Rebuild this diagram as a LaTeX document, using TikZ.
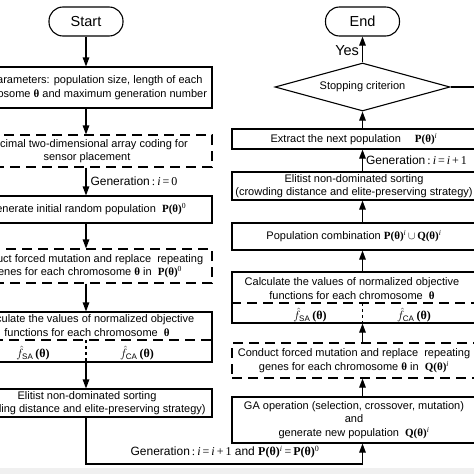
\documentclass[tikz,border=0pt]{standalone}
\usepackage{fontspec}
\setmainfont{Liberation Sans}
\newfontfamily\tms{Liberation Serif}
\usetikzlibrary{arrows.meta,shapes.geometric}
\newcommand{\Pb}{{\tms\bfseries P(θ)}}
\newcommand{\Qb}{{\tms\bfseries Q(θ)}}
\newcommand{\thb}{{\tms\bfseries θ}}
\newcommand{\Sp}[1]{\textsuperscript{\tms\itshape #1}}
\newcommand{\Sz}{\textsuperscript{\tms 0}}
\newcommand{\iv}{{\tms\itshape i}}
\newcommand{\eqs}{{\tms\,=\,}}
\newcommand{\gcol}{{\tms\,:\,}}
\tikzset{
  ln/.style={line width=1.1pt},
  box/.style={draw, line width=1.1pt, align=center, inner sep=0pt, font=\fontsize{11}{13.5}\selectfont},
  lbox/.style={box, minimum width=250pt},
  rbox/.style={box, minimum width=244pt},
  dbox/.style={dash pattern=on 10pt off 6pt},
  term/.style={draw, line width=1.1pt, rounded corners=14pt, minimum width=74pt, minimum height=29pt, font=\fontsize{14.5}{16}\selectfont, inner sep=0pt},
  arr/.style={line width=1.1pt, -{Triangle[length=9pt,width=6.5pt]}},
  lab/.style={font=\fontsize{12}{14}\selectfont, inner sep=0pt},
  txt/.style={font=\fontsize{11}{13.5}\selectfont, inner sep=0pt, align=center},
  flab/.style={font=\fontsize{12}{14}\selectfont, inner sep=0pt},
}
\begin{document}
\begin{tikzpicture}[x=1pt,y=-1pt]
\useasboundingbox (0,0) rectangle (474,474);
\clip (0,0) rectangle (474,474);
\fill[white] (0,0) rectangle (474,474);
\fill[gray!12] (0,467.5) rectangle (474,474);

% ---------------- left column ----------------
\node[term] (start) at (86,21.5) {Start};
\node[lbox, minimum height=41pt] (params) at (87,87.5) {Set parameters: population size, length of each\\chromosome \thb\ and maximum generation number};
\node[lbox, dbox, minimum height=32pt] (dec) at (87,151) {Decimal two-dimensional array coding for\\sensor placement};
\node[lbox, minimum height=27pt] (gen) at (87,209.5) {Generate initial random population \;\Pb\Sz};
\node[lbox, dbox, minimum height=34pt] (conL) at (87,266) {Conduct forced mutation and replace \ repeating\\genes for each chromosome \thb\ in \;\Pb\Sz};
\node[lbox, minimum height=50pt] (calL) at (87,337) {};
\node[txt] (calLt) at (87,325.5) {Calculate the values of normalized objective\\functions for each chromosome \;\thb};
\coordinate (yl) at (0,340);
\draw[ln, dbox] (calL.west |- yl) -- (calL.east |- yl);
\draw[ln, dash pattern=on 3pt off 3pt] (yl -| start) -- (calL.south -| start);
\node[flab] (fsaL) at (33,353) {$\hat{f}_{\mathrm{SA}}$\,{\tms\bfseries(θ)}};
\node[flab] (fcaL) at (137,353) {$\hat{f}_{\mathrm{CA}}$\,{\tms\bfseries(θ)}};
\node[lbox, minimum height=28pt] (eliL) at (87,403) {Elitist non-dominated sorting\\(crowding distance and elite-preserving strategy)};

% ---------------- right column ----------------
\node[term] (end) at (362.5,21.5) {End};
\node[draw, ln, diamond, aspect=3.6, minimum width=175pt, minimum height=48pt, inner sep=0pt, font=\fontsize{11}{13}\selectfont] (stop) at (362.5,87) {Stopping criterion};
\node[rbox, minimum height=20pt] (ext) at (354,139) {Extract the next population \quad\Pb\Sp{i}};
\node[rbox, minimum height=28pt] (eliR) at (354,186) {Elitist non-dominated sorting\\(crowding distance and elite-preserving strategy)};
\node[rbox, minimum height=27pt] (pop) at (354,236.5) {Population combination \Pb\Sp{i}\,$\cup$\,\Qb\Sp{i}};
\node[rbox, minimum height=51pt] (calR) at (354,297.5) {};
\node[txt] (calRt) at (352,288.5) {Calculate the values of normalized objective\\functions for each chromosome \;\thb};
\coordinate (yr) at (0,303);
\draw[ln, dbox] (calR.west |- yr) -- (calR.east |- yr);
\draw[ln, dash pattern=on 3pt off 3pt] (yr -| end) -- (calR.south -| end);
\node[flab] (fsaR) at (310,315) {$\hat{f}_{\mathrm{SA}}$\,{\tms\bfseries(θ)}};
\node[flab] (fcaR) at (414,315) {$\hat{f}_{\mathrm{CA}}$\,{\tms\bfseries(θ)}};
\node[rbox, dbox, minimum height=35pt] (conR) at (354,360.5) {Conduct forced mutation and replace \ repeating\\genes for each chromosome \thb\ in \;\Qb\Sp{i}};
\node[rbox, minimum height=46pt] (ga) at (354,420) {GA operation (selection, crossover, mutation)\\and\\generate new population \;\Qb\Sp{i}};

% ---------------- connectors ----------------
\draw[arr] (start.south) -- (params.north -| start);
\draw[arr] (params.south -| start) -- (dec.north -| start);
\draw[arr] (dec.south -| start) -- (gen.north -| start) node[lab, midway, right=4pt] (g0) {Generation\gcol\iv\eqs{\tms 0}};
\draw[arr] (gen.south -| start) -- (conL.north -| start);
\draw[arr] (conL.south -| start) -- (calL.north -| start);
\draw[arr] (calL.south -| start) -- (eliL.north -| start);
\coordinate (bl) at (86,464);
\draw[arr] (eliL.south -| start) -- (bl) -| (ga.south -| end);
\node[lab] (gloop) at (225,452) {Generation\gcol\iv\eqs\iv{\tms\,+\,1} and \Pb\Sp{i}\eqs\Pb\Sz};

\draw[arr] (ga.north -| end) -- (conR.south -| end);
\draw[arr] (conR.north -| end) -- (calR.south -| end);
\draw[arr] (calR.north -| end) -- (pop.south -| end);
\draw[arr] (pop.north -| end) -- (eliR.south -| end);
\draw[arr] (eliR.north -| end) -- (ext.south -| end) node[lab, midway, right=3pt] (g1) {Generation\gcol\iv\eqs\iv{\tms\,+\,1}};
\draw[arr] (ext.north -| end) -- (stop.south);
\draw[arr] (stop.north) -- (end.south) node[pos=0.45, left=3pt, font=\fontsize{14.5}{16}\selectfont, inner sep=0pt] (yes) {Yes};
\coordinate (noexit) at (480,87);
\draw[ln] (stop.east) -- (noexit);
\end{tikzpicture}
\end{document}
